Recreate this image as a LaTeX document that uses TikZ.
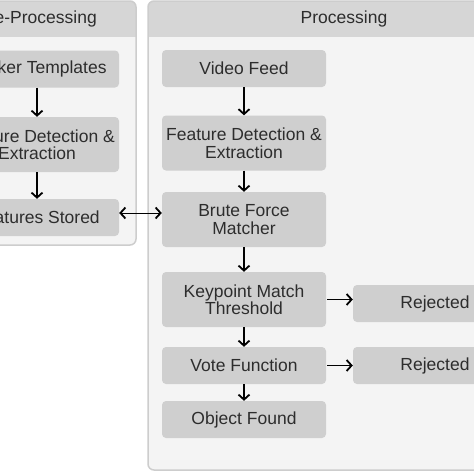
\documentclass[tikz,border=0pt]{standalone}
\usepackage{fontspec}
\setmainfont{Liberation Sans}
\usetikzlibrary{arrows.meta}
\definecolor{panelbg}{RGB}{244,244,244}
\definecolor{panelline}{RGB}{205,205,205}
\definecolor{hdr}{RGB}{214,214,214}
\definecolor{boxfill}{RGB}{207,207,207}
\definecolor{txt}{RGB}{45,45,45}
\tikzset{
  stepbox/.style={fill=boxfill, rounded corners=4pt, minimum width=164pt, minimum height=37pt,
    inner sep=0pt, align=center, text=txt, font=\fontsize{17.5}{17.5}\selectfont},
  hdrtext/.style={text=txt, font=\fontsize{17.5}{17.5}\selectfont, inner sep=0pt},
  arr/.style={draw=black, line width=1.1pt, -{Straight Barb[length=5pt,width=11pt,line width=1.8pt]}},
  darr/.style={draw=black, line width=0.9pt, {Straight Barb[length=5pt,width=11pt,line width=1.8pt]}-{Straight Barb[length=5pt,width=11pt,line width=1.8pt]}},
  panel/.style={draw=panelline, line width=1.5pt, rounded corners=6pt}
}
\begin{document}
\begin{tikzpicture}[x=1pt,y=-1pt]
\useasboundingbox (0,0) rectangle (474,474);
\fill[white] (0,0) rectangle (474,474);
\clip (0,0) rectangle (474,474);
% left panel
\fill[panelbg, rounded corners=6pt] (-62,1) rectangle (136,245);
\begin{scope}
  \clip[rounded corners=6pt] (-62,1) rectangle (136,245);
  \fill[hdr] (-62,1) rectangle (136,37);
\end{scope}
\draw[panel] (-62,1) rectangle (136,245);
% right panel
\fill[panelbg, rounded corners=6pt] (148,1) rectangle (540,470);
\begin{scope}
  \clip[rounded corners=6pt] (148,1) rectangle (540,470);
  \fill[hdr] (148,1) rectangle (540,37);
\end{scope}
\draw[panel] (148,1) rectangle (540,470);
\node[hdrtext] (hl) at (37,19) {Pre-Processing};
\node[hdrtext] (hr) at (344,19) {Processing};
% left boxes
\node[stepbox] (mt) at (37,69) {Marker Templates};
\node[stepbox, minimum height=55pt] (lfd) at (37,144.5) {Feature Detection \&\\Extraction};
\node[stepbox] (fs) at (37,217.5) {Features Stored};
% right boxes
\node[stepbox] (vf) at (244,68.5) {Video Feed};
\node[stepbox, minimum height=55pt] (rfd) at (244,143) {Feature Detection \&\\Extraction};
\node[stepbox, minimum height=55pt] (bf) at (244,219.5) {Brute Force\\Matcher};
\node[stepbox, minimum height=55pt] (km) at (244,299.5) {Keypoint Match\\Threshold};
\node[stepbox] (vote) at (244,365.5) {Vote Function};
\node[stepbox] (of) at (244,419.5) {Object Found};
\node[stepbox] (rj1) at (435,303.5) {Rejected};
\node[stepbox] (rj2) at (435,365.5) {Rejected};
% arrows
\draw[arr] (mt) -- (lfd);
\draw[arr] (lfd) -- (fs);
\draw[arr] (vf) -- (rfd);
\draw[arr] (rfd) -- (bf);
\draw[arr] (bf) -- (km);
\draw[arr] (km) -- (vote);
\draw[arr] (vote) -- (of);
\draw[darr] ([yshift=4.5pt]fs.east) -- ([yshift=4.5pt]fs.east -| bf.west);
\draw[arr] ([xshift=1pt]km.east) -- (km.east -| rj1.west);
\draw[arr] ([xshift=1pt]vote.east) -- (rj2.west);
\end{tikzpicture}
\end{document}
